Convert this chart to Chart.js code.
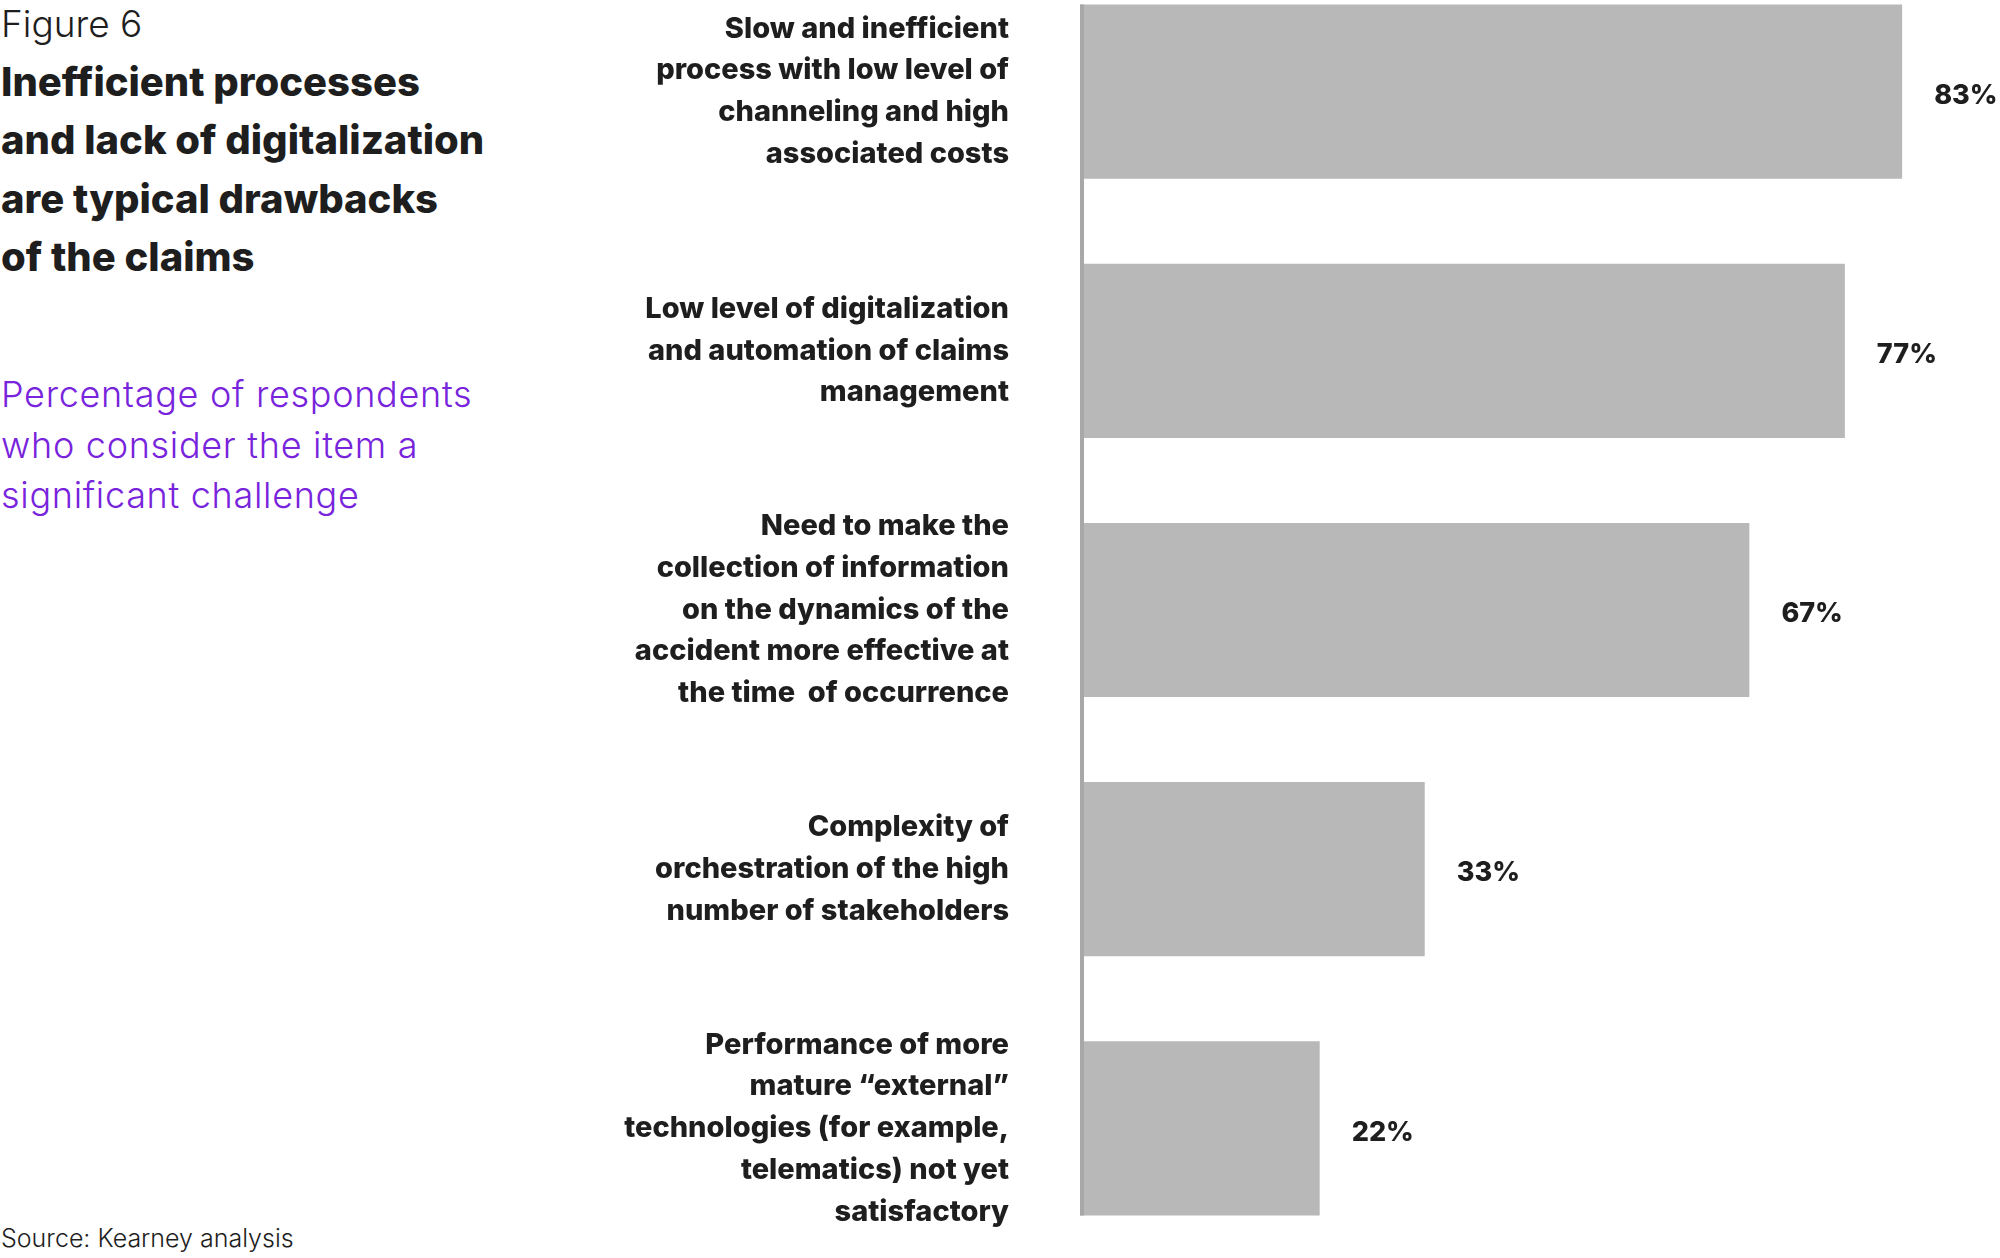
<!DOCTYPE html>
<html>
<head>
<meta charset="utf-8">
<script src="https://cdn.jsdelivr.net/npm/chart.js@4"></script>
<style>
  html,body{margin:0;padding:0;background:#fff;}
  body{width:2000px;height:1258px;position:relative;overflow:hidden;font-family:Inter,"Noto Sans",sans-serif;color:#1e1e1e;}
  #fig{position:absolute;left:1px;top:4px;font-size:37px;line-height:40px;font-weight:300;}
  #title{position:absolute;left:1px;top:53px;font-size:40px;line-height:58.3px;font-weight:800;letter-spacing:0;}
  #sub{position:absolute;left:1px;top:369px;font-size:36px;line-height:50.5px;font-weight:300;letter-spacing:0.7px;color:#7823DC;}
  #src{position:absolute;left:1px;top:1223px;font-size:25px;line-height:30px;font-weight:300;}
  #wrap{position:absolute;left:0;top:-38px;width:2000px;height:1296px;}
</style>
</head>
<body>
<div id="fig">Figure 6</div>
<div id="title">Inefficient processes<br>and lack of digitalization<br>are typical drawbacks<br>of the claims</div>
<div id="sub">Percentage of respondents<br>who consider the item a<br>significant challenge</div>
<div id="src">Source: Kearney analysis</div>
<div id="wrap"><canvas id="c"></canvas></div>
<script>
// categories (multi-line, as set in the figure)
const categories = [
  ['Slow and inefficient','process with low level of','channeling and high','associated costs'],
  ['Low level of digitalization','and automation of claims','management'],
  ['Need to make the','collection of information','on the dynamics of the','accident more effective at','the time  of occurrence'],
  ['Complexity of','orchestration of the high','number of stakeholders'],
  ['Performance of more','mature \u201cexternal\u201d','technologies (for example,','telematics) not yet','satisfactory']
];
// share of respondents, %
const values = [83, 77, 67, 33, 22];
const valueLabels = ['83%','77%','67%','33%','22%'];

const BAR = '#b8b8b8', AXIS = '#a8a8a8', INK = '#1e1e1e';
const XMIN = -3.1, XMAX = 90;   // bars start a little left of zero in the original

const axisLine = {
  id:'axisLine',
  afterDatasetsDraw(chart){
    const bars = chart.getDatasetMeta(0).data;
    const first = bars[0], last = bars[bars.length-1];
    const top = first.y - first.height/2, bot = last.y + last.height/2;
    const ctx = chart.ctx;
    ctx.save();
    ctx.fillStyle = AXIS;
    ctx.fillRect(chart.chartArea.left, top, 4, bot-top);
    ctx.restore();
  }
};

const valueTags = {
  id:'valueTags',
  afterDatasetsDraw(chart){
    const ctx = chart.ctx;
    ctx.save();
    ctx.font = '800 27px Inter';
    ctx.fillStyle = INK;
    ctx.textAlign = 'left';
    ctx.textBaseline = 'middle';
    chart.getDatasetMeta(0).data.forEach((b,i)=>{
      ctx.fillText(valueLabels[i], b.x + 32, b.y + 4);
    });
    ctx.restore();
  }
};

const tightText = {
  id:'tightText',
  beforeDraw(chart){ chart.ctx.letterSpacing = '0px'; }
};

new Chart(document.getElementById('c'), {
  type:'bar',
  data:{
    labels: categories,
    datasets:[{
      data: values,
      base: XMIN,
      backgroundColor: BAR,
      borderWidth: 0,
      barPercentage: 1,
      categoryPercentage: 0.672
    }]
  },
  plugins:[tightText, axisLine, valueTags],
  options:{
    indexAxis:'y',
    responsive:true,
    maintainAspectRatio:false,
    animation:false,
    layout:{ padding:{ left:0, right:31, top:0, bottom:0 } },
    plugins:{ legend:{display:false}, tooltip:{enabled:false} },
    scales:{
      x:{ display:false, min:XMIN, max:XMAX },
      y:{
        grid:{ display:false, drawTicks:false, tickLength:0 },
        border:{ display:false },
        ticks:{
          color: INK,
          padding: 71,
          autoSkip:false,
          font:{ family:'Inter', weight:'800', size:29, lineHeight:1.44 }
        },
        afterFit(scale){
          scale.width = 1080;
          scale.paddingTop = 0;
          scale.paddingBottom = 0;
        }
      }
    }
  }
});
</script>
</body>
</html>
